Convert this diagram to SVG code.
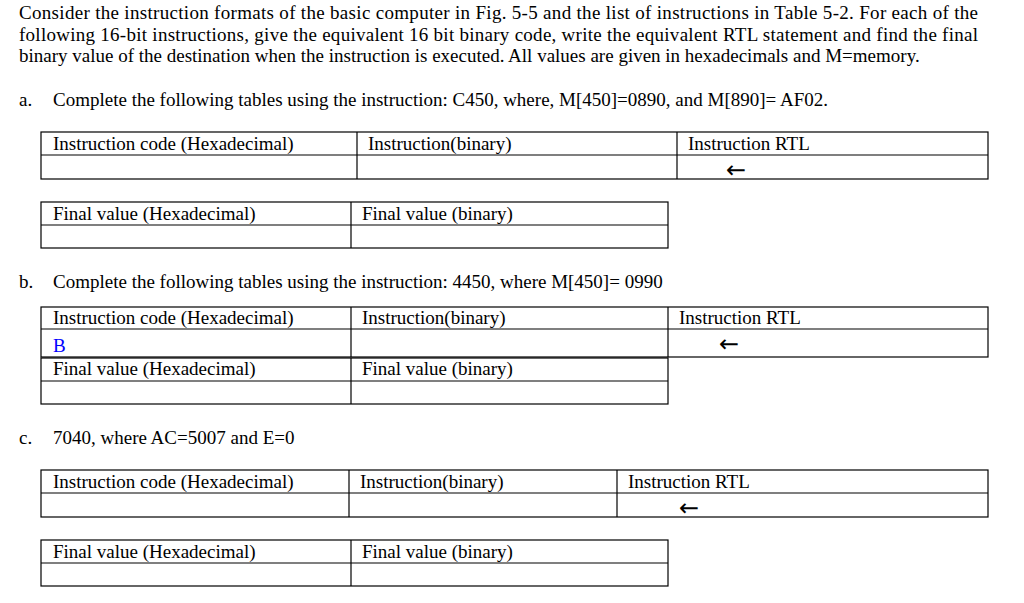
<svg xmlns="http://www.w3.org/2000/svg" width="1024" height="603" viewBox="0 0 1024 603">
<style>
text{font-family:"Liberation Serif",serif;font-size:19px;fill:#000}
.ar{font-family:"DejaVu Sans",sans-serif;font-size:24px}
.t rect{fill:none;stroke:#000;stroke-width:1.2}
.t line{stroke:#000;stroke-width:1.2}
</style>
<rect width="1024" height="603" fill="#fff"/>
<text x="19" y="19" textLength="959" lengthAdjust="spacing">Consider the instruction formats of the basic computer in Fig. 5-5 and the list of instructions in Table 5-2. For each of the</text>
<text x="19" y="41" textLength="959" lengthAdjust="spacing">following 16-bit instructions, give the equivalent 16 bit binary code, write the equivalent RTL statement and find the final</text>
<text x="19" y="62">binary value of the destination when the instruction is executed. All values are given in hexadecimals and M=memory.</text>
<text x="19" y="106">a.</text>
<text x="53" y="106">Complete the following tables using the instruction: C450, where, M[450]=0890, and M[890]= AF02.</text>
<g class="t" id="ta1">
<rect x="41" y="132" width="947" height="47"/><line x1="41" y1="155" x2="988" y2="155"/>
<line x1="357" y1="132" x2="357" y2="179"/><line x1="677" y1="132" x2="677" y2="179"/>
<text x="53" y="150">Instruction code (Hexadecimal)</text><text x="368" y="150">Instruction(binary)</text><text x="688" y="150">Instruction RTL</text>
<text class="ar" x="726" y="178">←</text></g>
<g class="t" id="ta2">
<rect x="41" y="202" width="627" height="46"/><line x1="41" y1="225" x2="668" y2="225"/>
<line x1="351" y1="202" x2="351" y2="248"/>
<text x="53" y="220">Final value (Hexadecimal)</text><text x="362" y="220">Final value (binary)</text></g>
<text x="19" y="288">b.</text>
<text x="53" y="288">Complete the following tables using the instruction: 4450, where M[450]= 0990</text>
<g class="t" id="tb1">
<rect x="41" y="307" width="947" height="50"/><line x1="41" y1="329" x2="988" y2="329"/>
<line x1="351" y1="307" x2="351" y2="357"/><line x1="668" y1="307" x2="668" y2="357"/>
<text x="53" y="324">Instruction code (Hexadecimal)</text><text x="362" y="324">Instruction(binary)</text><text x="679" y="324">Instruction RTL</text>
<text x="53" y="352" style="fill:#0000ff">B</text><text class="ar" x="719" y="352">←</text></g>
<g class="t" id="tb2">
<rect x="41" y="358" width="627" height="46"/><line x1="41" y1="381" x2="668" y2="381"/>
<line x1="351" y1="358" x2="351" y2="404"/>
<text x="53" y="375">Final value (Hexadecimal)</text><text x="362" y="375">Final value (binary)</text></g>
<text x="19" y="444">c.</text>
<text x="53" y="444">7040, where AC=5007 and E=0</text>
<g class="t" id="tc1">
<rect x="41" y="470" width="947" height="47"/><line x1="41" y1="493" x2="988" y2="493"/>
<line x1="349" y1="470" x2="349" y2="517"/><line x1="617" y1="470" x2="617" y2="517"/>
<text x="53" y="488">Instruction code (Hexadecimal)</text><text x="360" y="488">Instruction(binary)</text><text x="628" y="488">Instruction RTL</text>
<text class="ar" x="679" y="516">←</text></g>
<g class="t" id="tc2">
<rect x="41" y="540" width="627" height="46"/><line x1="41" y1="563" x2="668" y2="563"/>
<line x1="351" y1="540" x2="351" y2="586"/>
<text x="53" y="558">Final value (Hexadecimal)</text><text x="362" y="558">Final value (binary)</text></g>
</svg>
